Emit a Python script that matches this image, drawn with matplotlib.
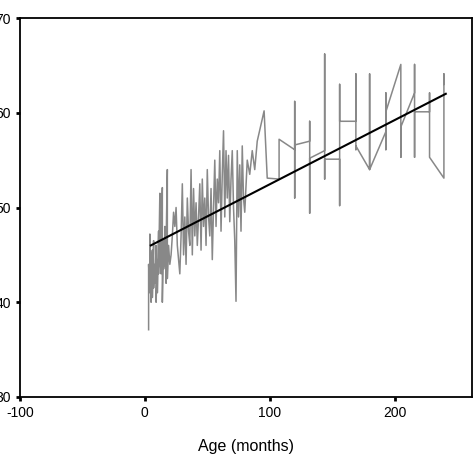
import numpy as np
import matplotlib.pyplot as plt

# gray observed line (age in months, value), in drawing order
ages = [3, 3, 4, 4, 5, 5, 6, 6, 7, 7, 8, 8, 9, 9, 10, 10, 11, 11, 12, 12,
        13, 13, 14, 14, 15, 15, 16, 16, 17, 17, 18, 18,
        19, 20, 21, 22, 23, 24, 25, 26, 27, 28, 29, 30,
        31, 32, 33, 34, 35, 36, 37, 38, 39, 40, 41, 42,
        43, 44, 45, 46, 47, 48, 49, 50, 51, 52, 53, 54,
        55, 56, 57, 58, 59, 60, 61, 62, 63, 64, 65, 66,
        67, 68, 69, 70, 71, 72, 73, 74, 75, 76, 77, 78, 79, 80,
        82, 84, 86, 88, 90,
        95.5, 98, 107.5, 107.5, 120, 120, 120, 120,
        132, 132, 132, 132, 144, 144, 144, 144, 156, 156, 156, 156,
        169, 169, 169, 169, 180, 180, 180, 193, 193, 193, 193,
        205, 205, 205, 216, 216, 216, 216, 228, 228, 228, 239.5, 239.5, 239.5]
values = [37.1, 44.0, 41.0, 47.2, 40.0, 43.5, 45.5, 40.5, 46.5, 41.5, 44.0, 42.0,
          46.0, 40.0, 44.5, 41.0, 47.5, 43.0, 51.5, 45.0, 43.0, 47.0, 52.1, 40.0,
          46.5, 43.5, 45.0, 48.0, 42.0, 46.0, 54.0, 42.5,
          46.0, 44.0, 45.0, 47.0, 49.5, 48.0, 50.0, 46.0, 44.5, 43.0, 47.0, 52.5,
          45.0, 49.0, 44.0, 51.0, 47.5, 46.0, 54.0, 45.0, 52.0, 47.0, 50.5, 46.0,
          49.0, 52.5, 45.5, 53.0, 48.0, 51.0, 46.0, 54.0, 49.0, 47.0, 52.0, 44.5,
          50.0, 55.0, 48.0, 53.0, 50.5, 56.0, 47.5, 53.5, 58.1, 49.0, 56.0, 51.0,
          55.5, 48.5, 53.0, 56.0, 50.0, 46.5, 40.1, 56.0, 49.0, 54.5, 47.5, 56.5, 51.0, 49.5,
          55.0, 53.5, 56.0, 54.0, 57.0,
          60.2, 53.1, 53.0, 57.2, 56.1, 61.2, 51.0, 56.6,
          57.0, 59.1, 49.4, 55.2, 56.0, 66.2, 53.0, 55.1, 55.1, 50.2, 63.0, 59.1,
          59.1, 64.1, 56.1, 56.5, 54.0, 64.1, 54.0, 58.0, 62.1, 56.1, 60.1,
          65.1, 55.3, 58.5, 62.1, 65.1, 55.3, 60.1, 60.1, 62.1, 55.3, 53.1, 64.1, 63.0]

# fitted regression line
fit_ages = [4.8, 241]
fit_values = [46.0, 62.0]

plt.rcParams['font.family'] = ['Liberation Sans', 'DejaVu Sans']
plt.rcParams['axes.unicode_minus'] = False

fig = plt.figure(figsize=(4.74, 4.74), dpi=100)
ax = fig.add_axes([20 / 474, 1 - 397 / 474, 452 / 474, 379 / 474])

ax.plot(ages, values, color='#888888', lw=1.1)
ax.plot(fit_ages, fit_values, color='black', lw=1.5)

ax.set_xlim(-100, 262)
ax.set_ylim(30, 70)
ax.set_xticks([-100, 0, 100, 200])
ax.set_yticks([30, 40, 50, 60, 70])
ax.tick_params(direction='out', length=3, width=2, labelsize=10)
for s in ax.spines.values():
    s.set_linewidth(1.3)
ax.set_xlabel('Age (months)', fontsize=11.5, labelpad=14)

fig.savefig('out.png', dpi=100)
